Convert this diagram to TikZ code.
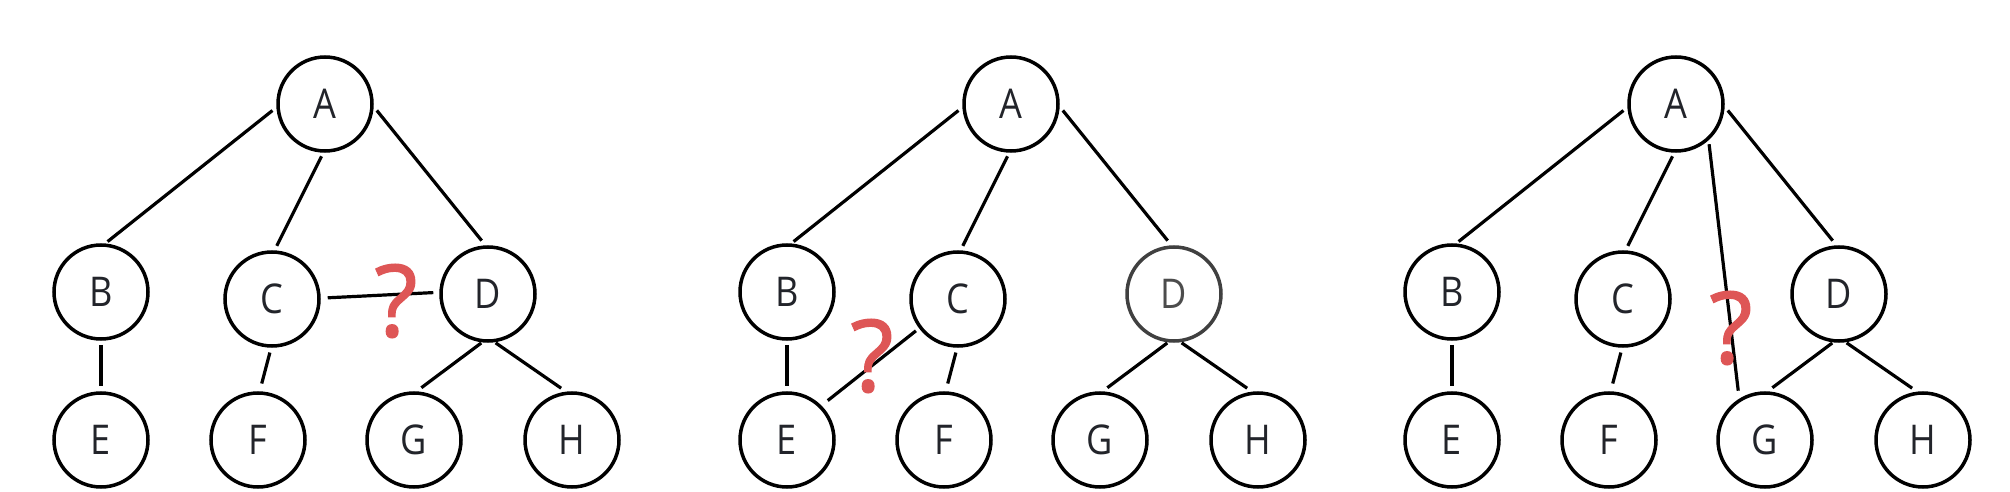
\documentclass[tikz,border=0pt]{standalone}
\usepackage{fontspec}
\setmainfont{Open Sans}
\newfontface\nodefont{Open Sans}[FakeStretch=0.88]
\newfontface\qfont{Open Sans}[FakeBold=1.2]
\definecolor{qred}{RGB}{222,86,86}
\definecolor{ink}{RGB}{34,36,42}
\tikzset{
  tn/.style={circle, draw=black, line width=1.75pt, minimum size=47pt, inner sep=0pt,
    font=\nodefont\fontsize{20.5}{21}\selectfont, text=ink},
  edge/.style={line width=1.6pt, draw=black},
  qmark/.style={text=qred, font=\qfont\fontsize{50}{51}\selectfont, inner sep=0pt},
}
\newcommand\treepanel[3]{%
  \begin{scope}[xshift=#2]
    \node[tn] (#1A) at (325,104) {A};
    \node[tn] (#1B) at (101,292) {B};
    \node[tn] (#1C) at (272,299) {C};
    \node[tn,#3] (#1D) at (488,294) {D};
    \node[tn] (#1E) at (101,440) {E};
    \node[tn] (#1F) at (258,440) {F};
    \node[tn] (#1G) at (414,440) {G};
    \node[tn] (#1H) at (572,440) {H};
    \draw[edge, shorten <=2.5pt, shorten >=1.5pt] (#1A.184) -- (#1B.85);
    \draw[edge, shorten <=2pt, shorten >=2.5pt] (#1A.268) -- (#1C.87);
    \draw[edge, shorten <=2.5pt, shorten >=3pt] (#1A.357) -- (#1D.93);
    \draw[edge, shorten <=2pt, shorten >=2.5pt] (#1B.270) -- (#1E.90);
    \draw[edge, shorten <=2.5pt, shorten >=4pt] (#1C.269) -- (#1F.88);
    \draw[edge, shorten <=0.5pt, shorten >=3pt] (#1D.263) -- (#1G.87);
    \draw[edge, shorten <=0.5pt, shorten >=3pt] (#1D.278) -- (#1H.97);
  \end{scope}}
\begin{document}
\begin{tikzpicture}[x=0.5pt, y=-0.5pt]
  \useasboundingbox[fill=white] (0,0) rectangle (2010,492);
  \treepanel{p1}{0pt}{}
  \treepanel{p2}{343pt}{draw=black!75, text=black!70}
  \treepanel{p3}{675.5pt}{}
  % extra connectors
  \draw[edge, shorten <=3.5pt, shorten >=3pt] (p1C.1) -- (p1D.178);
  \draw[edge, shorten <=2pt, shorten >=4pt] (p2C.217) -- (p2E.45);
  \draw[edge, shorten <=2pt, shorten >=4pt] (p3A.312) -- (p3G.122);
  % question marks
  \node[qmark] (q1) at (396,301) {?};
  \node[qmark] (q2) at (872,356) {?};
  \node[qmark] (q3) at (1731,328) {?};
\end{tikzpicture}
\end{document}
